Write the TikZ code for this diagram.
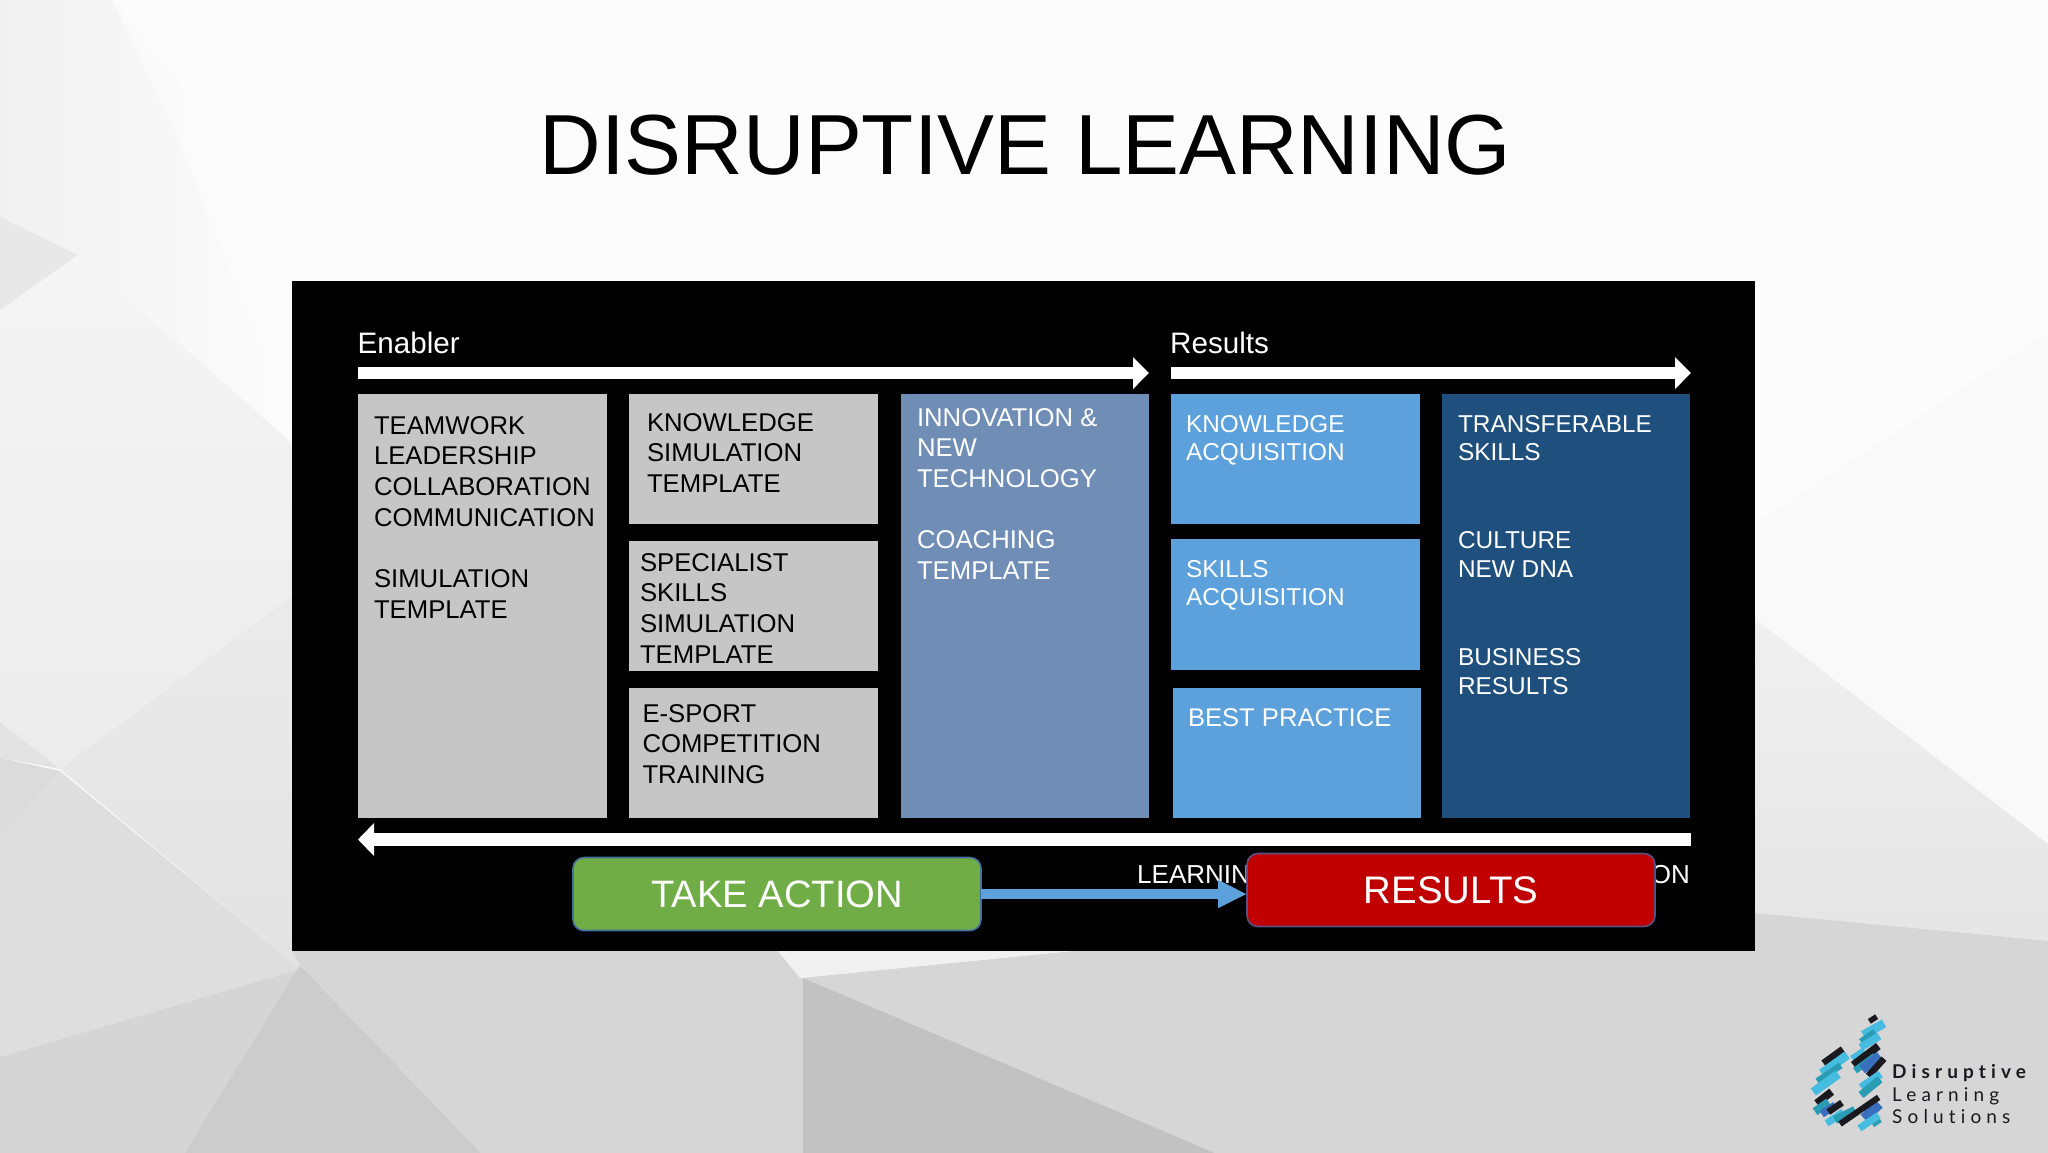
\documentclass[tikz,border=0pt]{standalone}
\usepackage{fontspec}
\setmainfont{Liberation Sans}
\newfontfamily\logofont[LetterSpace=27,Ligatures=NoCommon]{Lato}
\usetikzlibrary{arrows.meta}
\definecolor{boxgrey}{HTML}{C6C6C6}
\definecolor{steel}{HTML}{6F8DB5}
\definecolor{skyb}{HTML}{5CA0DC}
\definecolor{navy}{HTML}{1F4F7D}
\definecolor{lb}{HTML}{45BCE0}
\definecolor{tl}{HTML}{2A9DB5}
\definecolor{bl}{HTML}{3A6FC0}
\definecolor{bk}{HTML}{1A1A1E}
\newcommand{\ml}[1]{\begin{tabular}[t]{@{}l@{}}#1\end{tabular}}
\newcommand{\facet}[2]{\fill[fill=#1] #2 -- cycle;}
\newcommand{\st}[6]{\draw[line width=#6*0.55pt,draw=#1] (#2,#3) -- (#4,#5);}
\tikzset{
  tile/.style={rectangle,draw=none,inner sep=0pt,outer sep=0pt,anchor=north west},
  lab/.style={inner sep=0pt,outer sep=0pt,anchor=base west,font=\fontsize{25.7}{30.7}\selectfont},
  labs/.style={inner sep=0pt,outer sep=0pt,anchor=base west,text=white,font=\fontsize{24.4}{28.9}\selectfont},
  whitearrow/.style={draw=white,line width=12.5pt},
  pill/.style={rectangle,rounded corners=11pt,line width=1.6pt,text=white,inner sep=0pt,outer sep=0pt}
}
\begin{document}
\begin{tikzpicture}[x=1pt,y=-1pt]
\useasboundingbox (0,0) rectangle (2048,1152);
% background facets
\fill[fill=white!99!black] (-4,-4) rectangle (2052,1156);
\shade[left color=white!94.5!black,right color=white!98.8!black] (-4,-4) -- (110,-4) -- (175,130) -- (300,450) -- (78,255) -- (-4,215) -- cycle;
\shade[left color=white!98!black,right color=white!98.8!black] (110,-4) -- (340,285) -- (300,450) -- (175,130) -- cycle;
\facet{white!91!black}{(-4,215) -- (78,255) -- (-4,313)}
\shade[top color=white!96!black,bottom color=white!92.5!black] (78,255) -- (300,450) -- (300,590) -- (60,769) -- (-4,719) -- (-4,313) -- cycle;
\shade[top color=white!92!black,bottom color=white!89!black] (60,769) -- (300,590) -- (300,969) -- cycle;
\facet{white!89!black}{(-4,719) -- (60,769) -- (-4,757)}
\facet{white!86!black}{(-4,757) -- (60,771) -- (-4,844)}
\facet{white!87!black}{(-4,844) -- (60,771) -- (300,969) -- (-4,1058)}
\facet{white!83.5!black}{(-4,1058) -- (300,969) -- (183,1156) -- (-4,1156)}
\facet{white!80!black}{(300,965) -- (484,1156) -- (183,1156)}
\facet{white!84!black}{(292,951) -- (778,951) -- (803,978) -- (803,1156) -- (484,1156) -- (300,965)}
\facet{white!84!black}{(800,978) -- (1072,951) -- (1760,913) -- (2052,941) -- (2052,1156) -- (1222,1156)}
\facet{white!76!black}{(803,978) -- (1222,1156) -- (803,1156)}
\facet{white!94!black}{(778,951) -- (1072,951) -- (800,978)}
\facet{white!97.5!black}{(1755,524) -- (2052,330) -- (2052,847) -- (1755,619)}
\shade[top color=white!94!black,bottom color=white!90!black] (1755,619) -- (2052,847) -- (2052,941) -- (1755,913) -- cycle;
% panel
\node[tile,fill=black,minimum width=1463pt,minimum height=670pt] (panel) at (292,281) {};
% title
\node[inner sep=0pt,anchor=base,font=\fontsize{85.3}{90}\selectfont] (title) at (1025.5,174.5) {DISRUPTIVE LEARNING};
% headings and arrows
\node[inner sep=0pt,anchor=base west,text=white,font=\fontsize{29.6}{32}\selectfont] (enabler) at (357.5,353.5) {Enabler};
\node[inner sep=0pt,anchor=base west,text=white,font=\fontsize{29.6}{32}\selectfont] (resultshead) at (1170,353.5) {Results};
\coordinate (ea) at (358,373);
\coordinate (eb) at (1149,373);
\coordinate (ra) at (1171,373);
\coordinate (rb) at (1691,373);
\coordinate (ba) at (1691,839.5);
\coordinate (bb) at (358,839.5);
\draw[whitearrow,-{Triangle[length=16pt,width=31pt]}] (ea) -- (eb);
\draw[whitearrow,-{Triangle[length=16pt,width=31pt]}] (ra) -- (rb);
\draw[whitearrow,-{Triangle[length=16pt,width=32pt]}] (ba) -- (bb);
% tiles
\node[tile,fill=boxgrey,minimum width=249pt,minimum height=424pt] (t1) at (358,394) {};
\node[tile,fill=boxgrey,minimum width=249pt,minimum height=130pt] (t2) at (629,394) {};
\node[tile,fill=boxgrey,minimum width=249pt,minimum height=130pt] (t3) at (629,541) {};
\node[tile,fill=boxgrey,minimum width=249pt,minimum height=130pt] (t4) at (629,688) {};
\node[tile,fill=steel,minimum width=248pt,minimum height=424pt] (t5) at (901,394) {};
\node[tile,fill=skyb,minimum width=249pt,minimum height=130pt] (t6) at (1171,394) {};
\node[tile,fill=skyb,minimum width=249pt,minimum height=131pt] (t7) at (1171,539) {};
\node[tile,fill=skyb,minimum width=248pt,minimum height=130pt] (t8) at (1173,688) {};
\node[tile,fill=navy,minimum width=248pt,minimum height=424pt] (t9) at (1442,394) {};
% tile texts
\node[lab] (x1) at (374,434) {\ml{TEAMWORK\\LEADERSHIP\\COLLABORATION\\COMMUNICATION\\ \\SIMULATION\\TEMPLATE}};
\node[lab] (x2) at (647,431) {\ml{KNOWLEDGE\\SIMULATION\\TEMPLATE}};
\node[lab] (x3) at (640,571) {\ml{SPECIALIST\\SKILLS\\SIMULATION\\TEMPLATE}};
\node[lab] (x4) at (642.5,722) {\ml{E-SPORT\\COMPETITION\\TRAINING}};
\node[lab,text=white] (x5) at (917,426) {\ml{INNOVATION \&\\NEW\\TECHNOLOGY\\ \\COACHING\\TEMPLATE}};
\node[labs] (x6) at (1186,432) {\ml{KNOWLEDGE\\ACQUISITION}};
\node[labs] (x7) at (1186,577) {\ml{SKILLS\\ACQUISITION}};
\node[labs,font=\fontsize{25.6}{30}\selectfont] (x8) at (1188,726) {BEST PRACTICE};
\node[labs] (x9) at (1458,432) {\ml{TRANSFERABLE\\SKILLS}};
\node[labs] (x10) at (1458,548.5) {\ml{CULTURE\\NEW DNA}};
\node[labs] (x11) at (1458,665.5) {\ml{BUSINESS\\RESULTS}};
% bottom band text, partly hidden by the results box
\node[inner sep=0pt,anchor=base west,text=white,font=\fontsize{26}{30}\selectfont] (lrn) at (1137,883) {LEARNING};
\node[inner sep=0pt,anchor=base east,text=white,font=\fontsize{26}{30}\selectfont] (on) at (1690,883) {ON};
% action boxes
\node[pill,fill={rgb,255:red,112;green,173;blue,71},draw={rgb,255:red,65;green,113;blue,156},minimum width=408pt,minimum height=73pt,font=\fontsize{38.2}{42}\selectfont] (take) at (777,894) {\raisebox{-1.2pt}{TAKE ACTION}};
\node[pill,fill={rgb,255:red,192;green,0;blue,0},draw={rgb,255:red,90;green,80;blue,130},minimum width=408pt,minimum height=73pt,font=\fontsize{38.4}{42}\selectfont] (res) at (1451,890) {\raisebox{-1.2pt}{RESULTS}};
\draw[draw=skyb,line width=9.5pt,-{Triangle[length=29pt,width=26pt]}] (take.east) -- (take.east -| res.west);
% logo
\begin{scope}[shift={(1760,990)},x=.3333pt,y=-.3333pt]
\st{bk}{328}{94}{350}{80}{10}
\st{bk}{192}{222}{250}{180}{16}
\st{lb}{310}{135}{372}{100}{16}
\st{tl}{305}{158}{347}{128}{16}
\st{lb}{302}{172}{358}{138}{14}
\st{lb}{275}{205}{312}{180}{10}
\st{bk}{280}{225}{355}{168}{14}
\st{lb}{185}{250}{262}{195}{16}
\st{tl}{172}{274}{242}{226}{12}
\st{lb}{160}{306}{235}{252}{16}
\st{tl}{285}{242}{345}{198}{12}
\st{bl}{306}{238}{360}{198}{18}
\st{bk}{325}{258}{372}{206}{12}
\st{lb}{303}{292}{362}{252}{14}
\st{tl}{303}{315}{360}{268}{14}
\st{bk}{170}{340}{215}{305}{14}
\st{tl}{165}{365}{206}{336}{15}
\st{bl}{185}{372}{226}{346}{14}
\st{bk}{205}{366}{246}{338}{12}
\st{lb}{200}{400}{250}{366}{13}
\st{tl}{225}{390}{285}{360}{15}
\st{bl}{312}{385}{358}{342}{18}
\st{bk}{240}{402}{356}{322}{11}
\st{tl}{335}{400}{358}{385}{16}
\st{lb}{298}{415}{356}{376}{13}
\end{scope}
\node[inner sep=0pt,anchor=base west,text=bk,font=\logofont\bfseries\fontsize{19}{20}\selectfont] (logo1) at (1892,1078) {Disruptive};
\node[inner sep=0pt,anchor=base west,text=bk,font=\logofont\fontsize{19}{20}\selectfont] (logo2) at (1892,1101) {Learning};
\node[inner sep=0pt,anchor=base west,text=bk,font=\logofont\fontsize{19}{20}\selectfont] (logo3) at (1892,1123) {Solutions};
\end{tikzpicture}
\end{document}
